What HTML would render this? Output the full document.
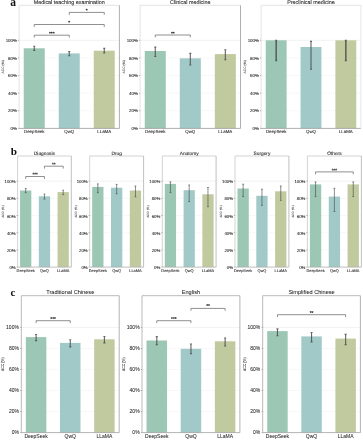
<!DOCTYPE html>
<html><head><meta charset="utf-8"><style>
html,body{margin:0;padding:0;background:#fff;}
svg{display:block;}
#w{position:absolute;left:0;top:0;width:363px;height:440px;will-change:transform;}
text.L{font-family:"Liberation Serif",serif;font-weight:bold;stroke-width:0;fill:#111;}
text{font-family:"Liberation Sans", sans-serif;fill:#1e1e1e;stroke:#1e1e1e;stroke-width:0.05;}
.gp text{text-rendering:geometricPrecision;fill:#1a1a1a;stroke:#1a1a1a;stroke-width:0.07;}
text.yl{fill:#333;stroke:#333;stroke-width:0.04;}
</style></head><body><div id="w">
<svg width="363" height="440" viewBox="0 0 363 440">
<rect width="363" height="440" fill="#fff"/>
<g class="gp">
<line x1="19.10" y1="110.78" x2="119.40" y2="110.78" stroke="#eeeeee" stroke-width="0.6" stroke-dasharray="2.5 1"/>
<line x1="19.10" y1="93.16" x2="119.40" y2="93.16" stroke="#eeeeee" stroke-width="0.6" stroke-dasharray="2.5 1"/>
<line x1="19.10" y1="75.54" x2="119.40" y2="75.54" stroke="#eeeeee" stroke-width="0.6" stroke-dasharray="2.5 1"/>
<line x1="19.10" y1="57.92" x2="119.40" y2="57.92" stroke="#eeeeee" stroke-width="0.6" stroke-dasharray="2.5 1"/>
<line x1="19.10" y1="40.30" x2="119.40" y2="40.30" stroke="#e8e8e8" stroke-width="0.6"/>
<rect x="23.75" y="48.30" width="21.00" height="80.10" fill="#9bc7b4"/>
<rect x="58.75" y="53.40" width="21.00" height="75.00" fill="#a0c9c8"/>
<rect x="93.75" y="50.70" width="21.00" height="77.70" fill="#c1ca9f"/>
<path d="M34.25 46.30V50.40M33.25 46.30H35.25M33.25 50.40H35.25" stroke="#4a4a4a" stroke-opacity="0.85" stroke-width="1.1" fill="none"/>
<path d="M69.25 51.60V55.70M68.25 51.60H70.25M68.25 55.70H70.25" stroke="#4a4a4a" stroke-opacity="0.85" stroke-width="1.1" fill="none"/>
<path d="M104.25 48.40V52.90M103.25 48.40H105.25M103.25 52.90H105.25" stroke="#4a4a4a" stroke-opacity="0.85" stroke-width="1.1" fill="none"/>
<path d="M19.10 128.40V5.30H119.40" stroke="#dcdcdc" stroke-width="0.8" fill="none"/>
<path d="M19.10 128.40H119.40" stroke="#9a9a9a" stroke-width="0.8" fill="none"/>
<path d="M119.40 128.40V5.30" stroke="#9a9a9a" stroke-width="0.8" fill="none"/>
<line x1="17.90" y1="128.40" x2="19.10" y2="128.40" stroke="#555" stroke-width="0.4"/>
<text x="16.90" y="129.98" font-size="4.4" text-anchor="end">0%</text>
<line x1="17.90" y1="110.78" x2="19.10" y2="110.78" stroke="#555" stroke-width="0.4"/>
<text x="16.90" y="112.36" font-size="4.4" text-anchor="end">20%</text>
<line x1="17.90" y1="93.16" x2="19.10" y2="93.16" stroke="#555" stroke-width="0.4"/>
<text x="16.90" y="94.74" font-size="4.4" text-anchor="end">40%</text>
<line x1="17.90" y1="75.54" x2="19.10" y2="75.54" stroke="#555" stroke-width="0.4"/>
<text x="16.90" y="77.12" font-size="4.4" text-anchor="end">60%</text>
<line x1="17.90" y1="57.92" x2="19.10" y2="57.92" stroke="#555" stroke-width="0.4"/>
<text x="16.90" y="59.50" font-size="4.4" text-anchor="end">80%</text>
<line x1="17.90" y1="40.30" x2="19.10" y2="40.30" stroke="#555" stroke-width="0.4"/>
<text x="16.90" y="41.88" font-size="4.4" text-anchor="end">100%</text>
<text x="34.25" y="133.00" font-size="4.4" text-anchor="middle">DeepSeek</text>
<text x="69.25" y="133.00" font-size="4.4" text-anchor="middle">QwQ</text>
<text x="104.25" y="133.00" font-size="4.4" text-anchor="middle">LLaMA</text>
<text transform="translate(3.90 66.85) rotate(-90)" font-size="3.4" class="yl" text-anchor="middle">ACC (%)</text>
<text x="69.25" y="3.90" font-size="5.4" text-anchor="middle">Medical teaching examination</text>
<path d="M34.25 37.60V35.20H69.25V37.60" stroke="#606060" stroke-width="0.7" fill="none"/>
<text x="51.75" y="34.70" font-size="4.8" font-weight="bold" text-anchor="middle">***</text>
<path d="M34.25 26.90V24.50H104.25V26.90" stroke="#606060" stroke-width="0.7" fill="none"/>
<text x="69.25" y="24.00" font-size="4.8" font-weight="bold" text-anchor="middle">*</text>
<path d="M69.25 14.80V12.40H104.25V14.80" stroke="#606060" stroke-width="0.7" fill="none"/>
<text x="86.75" y="11.90" font-size="4.8" font-weight="bold" text-anchor="middle">*</text>
</g>
<g class="gp">
<line x1="140.10" y1="110.78" x2="240.50" y2="110.78" stroke="#eeeeee" stroke-width="0.6" stroke-dasharray="2.5 1"/>
<line x1="140.10" y1="93.16" x2="240.50" y2="93.16" stroke="#eeeeee" stroke-width="0.6" stroke-dasharray="2.5 1"/>
<line x1="140.10" y1="75.54" x2="240.50" y2="75.54" stroke="#eeeeee" stroke-width="0.6" stroke-dasharray="2.5 1"/>
<line x1="140.10" y1="57.92" x2="240.50" y2="57.92" stroke="#eeeeee" stroke-width="0.6" stroke-dasharray="2.5 1"/>
<line x1="140.10" y1="40.30" x2="240.50" y2="40.30" stroke="#e8e8e8" stroke-width="0.6"/>
<rect x="144.76" y="51.00" width="21.02" height="77.40" fill="#9bc7b4"/>
<rect x="179.79" y="58.30" width="21.02" height="70.10" fill="#a0c9c8"/>
<rect x="214.82" y="54.10" width="21.02" height="74.30" fill="#c1ca9f"/>
<path d="M155.27 47.10V56.50M154.27 47.10H156.27M154.27 56.50H156.27" stroke="#4a4a4a" stroke-opacity="0.85" stroke-width="1.1" fill="none"/>
<path d="M190.30 53.40V65.00M189.30 53.40H191.30M189.30 65.00H191.30" stroke="#4a4a4a" stroke-opacity="0.85" stroke-width="1.1" fill="none"/>
<path d="M225.33 49.80V59.80M224.33 49.80H226.33M224.33 59.80H226.33" stroke="#4a4a4a" stroke-opacity="0.85" stroke-width="1.1" fill="none"/>
<path d="M140.10 128.40V5.30H240.50" stroke="#dcdcdc" stroke-width="0.8" fill="none"/>
<path d="M140.10 128.40H240.50" stroke="#9a9a9a" stroke-width="0.8" fill="none"/>
<path d="M240.50 128.40V5.30" stroke="#9a9a9a" stroke-width="0.8" fill="none"/>
<line x1="138.90" y1="128.40" x2="140.10" y2="128.40" stroke="#555" stroke-width="0.4"/>
<text x="137.90" y="129.98" font-size="4.4" text-anchor="end">0%</text>
<line x1="138.90" y1="110.78" x2="140.10" y2="110.78" stroke="#555" stroke-width="0.4"/>
<text x="137.90" y="112.36" font-size="4.4" text-anchor="end">20%</text>
<line x1="138.90" y1="93.16" x2="140.10" y2="93.16" stroke="#555" stroke-width="0.4"/>
<text x="137.90" y="94.74" font-size="4.4" text-anchor="end">40%</text>
<line x1="138.90" y1="75.54" x2="140.10" y2="75.54" stroke="#555" stroke-width="0.4"/>
<text x="137.90" y="77.12" font-size="4.4" text-anchor="end">60%</text>
<line x1="138.90" y1="57.92" x2="140.10" y2="57.92" stroke="#555" stroke-width="0.4"/>
<text x="137.90" y="59.50" font-size="4.4" text-anchor="end">80%</text>
<line x1="138.90" y1="40.30" x2="140.10" y2="40.30" stroke="#555" stroke-width="0.4"/>
<text x="137.90" y="41.88" font-size="4.4" text-anchor="end">100%</text>
<text x="155.27" y="133.00" font-size="4.4" text-anchor="middle">DeepSeek</text>
<text x="190.30" y="133.00" font-size="4.4" text-anchor="middle">QwQ</text>
<text x="225.33" y="133.00" font-size="4.4" text-anchor="middle">LLaMA</text>
<text transform="translate(125.20 66.85) rotate(-90)" font-size="3.4" class="yl" text-anchor="middle">ACC (%)</text>
<text x="190.30" y="3.90" font-size="5.4" text-anchor="middle">Clinical medicine</text>
<path d="M155.27 37.40V35.00H190.30V37.40" stroke="#606060" stroke-width="0.7" fill="none"/>
<text x="172.78" y="34.50" font-size="4.8" font-weight="bold" text-anchor="middle">**</text>
</g>
<g class="gp">
<line x1="261.10" y1="110.78" x2="360.90" y2="110.78" stroke="#eeeeee" stroke-width="0.6" stroke-dasharray="2.5 1"/>
<line x1="261.10" y1="93.16" x2="360.90" y2="93.16" stroke="#eeeeee" stroke-width="0.6" stroke-dasharray="2.5 1"/>
<line x1="261.10" y1="75.54" x2="360.90" y2="75.54" stroke="#eeeeee" stroke-width="0.6" stroke-dasharray="2.5 1"/>
<line x1="261.10" y1="57.92" x2="360.90" y2="57.92" stroke="#eeeeee" stroke-width="0.6" stroke-dasharray="2.5 1"/>
<line x1="261.10" y1="40.30" x2="360.90" y2="40.30" stroke="#e8e8e8" stroke-width="0.6"/>
<rect x="265.73" y="40.30" width="20.89" height="88.10" fill="#9bc7b4"/>
<rect x="300.55" y="47.00" width="20.89" height="81.40" fill="#a0c9c8"/>
<rect x="335.38" y="40.30" width="20.89" height="88.10" fill="#c1ca9f"/>
<path d="M276.18 40.50V60.40M275.18 40.50H277.18M275.18 60.40H277.18" stroke="#4a4a4a" stroke-opacity="0.85" stroke-width="1.5" fill="none"/>
<path d="M311.00 41.40V69.20M310.00 41.40H312.00M310.00 69.20H312.00" stroke="#4a4a4a" stroke-opacity="0.85" stroke-width="1.1" fill="none"/>
<path d="M345.82 40.50V60.40M344.82 40.50H346.82M344.82 60.40H346.82" stroke="#4a4a4a" stroke-opacity="0.85" stroke-width="1.5" fill="none"/>
<path d="M261.10 128.40V5.30H360.90" stroke="#dcdcdc" stroke-width="0.8" fill="none"/>
<path d="M261.10 128.40H360.90" stroke="#9a9a9a" stroke-width="0.8" fill="none"/>
<path d="M360.90 128.40V5.30" stroke="#e0e0e0" stroke-width="0.8" fill="none"/>
<line x1="259.90" y1="128.40" x2="261.10" y2="128.40" stroke="#555" stroke-width="0.4"/>
<text x="258.90" y="129.98" font-size="4.4" text-anchor="end">0%</text>
<line x1="259.90" y1="110.78" x2="261.10" y2="110.78" stroke="#555" stroke-width="0.4"/>
<text x="258.90" y="112.36" font-size="4.4" text-anchor="end">20%</text>
<line x1="259.90" y1="93.16" x2="261.10" y2="93.16" stroke="#555" stroke-width="0.4"/>
<text x="258.90" y="94.74" font-size="4.4" text-anchor="end">40%</text>
<line x1="259.90" y1="75.54" x2="261.10" y2="75.54" stroke="#555" stroke-width="0.4"/>
<text x="258.90" y="77.12" font-size="4.4" text-anchor="end">60%</text>
<line x1="259.90" y1="57.92" x2="261.10" y2="57.92" stroke="#555" stroke-width="0.4"/>
<text x="258.90" y="59.50" font-size="4.4" text-anchor="end">80%</text>
<line x1="259.90" y1="40.30" x2="261.10" y2="40.30" stroke="#555" stroke-width="0.4"/>
<text x="258.90" y="41.88" font-size="4.4" text-anchor="end">100%</text>
<text x="276.18" y="133.00" font-size="4.4" text-anchor="middle">DeepSeek</text>
<text x="311.00" y="133.00" font-size="4.4" text-anchor="middle">QwQ</text>
<text x="345.82" y="133.00" font-size="4.4" text-anchor="middle">LLaMA</text>
<text transform="translate(245.90 66.85) rotate(-90)" font-size="3.4" class="yl" text-anchor="middle">ACC (%)</text>
<text x="311.00" y="3.90" font-size="5.4" text-anchor="middle">Preclinical medicine</text>
</g>
<g class="gp">
<line x1="17.60" y1="249.90" x2="71.30" y2="249.90" stroke="#eeeeee" stroke-width="0.6" stroke-dasharray="2.5 1"/>
<line x1="17.60" y1="232.70" x2="71.30" y2="232.70" stroke="#eeeeee" stroke-width="0.6" stroke-dasharray="2.5 1"/>
<line x1="17.60" y1="215.50" x2="71.30" y2="215.50" stroke="#eeeeee" stroke-width="0.6" stroke-dasharray="2.5 1"/>
<line x1="17.60" y1="198.30" x2="71.30" y2="198.30" stroke="#eeeeee" stroke-width="0.6" stroke-dasharray="2.5 1"/>
<line x1="17.60" y1="181.10" x2="71.30" y2="181.10" stroke="#e8e8e8" stroke-width="0.6"/>
<rect x="20.09" y="190.50" width="11.24" height="76.60" fill="#9bc7b4"/>
<rect x="38.83" y="196.30" width="11.24" height="70.80" fill="#a0c9c8"/>
<rect x="57.57" y="192.10" width="11.24" height="75.00" fill="#c1ca9f"/>
<path d="M25.71 188.50V192.60M24.81 188.50H26.61M24.81 192.60H26.61" stroke="#4a4a4a" stroke-opacity="0.85" stroke-width="0.75" fill="none"/>
<path d="M44.45 194.10V199.10M43.55 194.10H45.35M43.55 199.10H45.35" stroke="#4a4a4a" stroke-opacity="0.85" stroke-width="0.75" fill="none"/>
<path d="M63.19 190.20V194.60M62.29 190.20H64.09M62.29 194.60H64.09" stroke="#4a4a4a" stroke-opacity="0.85" stroke-width="0.75" fill="none"/>
<path d="M17.60 267.10V156.00H71.30" stroke="#c8c8c8" stroke-width="0.8" fill="none"/>
<path d="M17.60 267.10H71.30" stroke="#b0b0b0" stroke-width="0.8" fill="none"/>
<path d="M71.30 267.10V156.00" stroke="#b0b0b0" stroke-width="0.8" fill="none"/>
<line x1="16.40" y1="267.10" x2="17.60" y2="267.10" stroke="#555" stroke-width="0.4"/>
<text x="15.60" y="269.15" font-size="4.3" text-anchor="end">0%</text>
<line x1="16.40" y1="249.90" x2="17.60" y2="249.90" stroke="#555" stroke-width="0.4"/>
<text x="15.60" y="251.95" font-size="4.3" text-anchor="end">20%</text>
<line x1="16.40" y1="232.70" x2="17.60" y2="232.70" stroke="#555" stroke-width="0.4"/>
<text x="15.60" y="234.75" font-size="4.3" text-anchor="end">40%</text>
<line x1="16.40" y1="215.50" x2="17.60" y2="215.50" stroke="#555" stroke-width="0.4"/>
<text x="15.60" y="217.55" font-size="4.3" text-anchor="end">60%</text>
<line x1="16.40" y1="198.30" x2="17.60" y2="198.30" stroke="#555" stroke-width="0.4"/>
<text x="15.60" y="200.35" font-size="4.3" text-anchor="end">80%</text>
<line x1="16.40" y1="181.10" x2="17.60" y2="181.10" stroke="#555" stroke-width="0.4"/>
<text x="15.60" y="183.15" font-size="4.3" text-anchor="end">100%</text>
<text x="25.71" y="271.70" font-size="3.9" text-anchor="middle">DeepSeek</text>
<text x="44.45" y="271.70" font-size="3.9" text-anchor="middle">QwQ</text>
<text x="63.19" y="271.70" font-size="3.9" text-anchor="middle">LLaMA</text>
<text transform="translate(4.00 211.55) rotate(-90)" font-size="3.2" class="yl" text-anchor="middle">ACC (%)</text>
<text x="44.45" y="154.60" font-size="4.8" text-anchor="middle">Diagnosis</text>
<path d="M25.71 178.90V176.50H44.45V178.90" stroke="#606060" stroke-width="0.7" fill="none"/>
<text x="35.08" y="176.20" font-size="4.6" font-weight="bold" text-anchor="middle">***</text>
<path d="M44.45 168.60V166.20H63.19V168.60" stroke="#606060" stroke-width="0.7" fill="none"/>
<text x="53.82" y="165.90" font-size="4.6" font-weight="bold" text-anchor="middle">**</text>
</g>
<g class="gp">
<line x1="89.70" y1="249.90" x2="143.60" y2="249.90" stroke="#eeeeee" stroke-width="0.6" stroke-dasharray="2.5 1"/>
<line x1="89.70" y1="232.70" x2="143.60" y2="232.70" stroke="#eeeeee" stroke-width="0.6" stroke-dasharray="2.5 1"/>
<line x1="89.70" y1="215.50" x2="143.60" y2="215.50" stroke="#eeeeee" stroke-width="0.6" stroke-dasharray="2.5 1"/>
<line x1="89.70" y1="198.30" x2="143.60" y2="198.30" stroke="#eeeeee" stroke-width="0.6" stroke-dasharray="2.5 1"/>
<line x1="89.70" y1="181.10" x2="143.60" y2="181.10" stroke="#e8e8e8" stroke-width="0.6"/>
<rect x="92.20" y="186.90" width="11.28" height="80.20" fill="#9bc7b4"/>
<rect x="111.01" y="187.70" width="11.28" height="79.40" fill="#a0c9c8"/>
<rect x="129.81" y="190.50" width="11.28" height="76.60" fill="#c1ca9f"/>
<path d="M97.84 183.90V192.60M96.94 183.90H98.74M96.94 192.60H98.74" stroke="#4a4a4a" stroke-opacity="0.85" stroke-width="0.75" fill="none"/>
<path d="M116.65 184.40V193.80M115.75 184.40H117.55M115.75 193.80H117.55" stroke="#4a4a4a" stroke-opacity="0.85" stroke-width="0.75" fill="none"/>
<path d="M135.46 186.00V196.80M134.56 186.00H136.36M134.56 196.80H136.36" stroke="#4a4a4a" stroke-opacity="0.85" stroke-width="0.75" fill="none"/>
<path d="M89.70 267.10V156.00H143.60" stroke="#c8c8c8" stroke-width="0.8" fill="none"/>
<path d="M89.70 267.10H143.60" stroke="#b0b0b0" stroke-width="0.8" fill="none"/>
<path d="M143.60 267.10V156.00" stroke="#b0b0b0" stroke-width="0.8" fill="none"/>
<line x1="88.50" y1="267.10" x2="89.70" y2="267.10" stroke="#555" stroke-width="0.4"/>
<text x="87.70" y="269.15" font-size="4.3" text-anchor="end">0%</text>
<line x1="88.50" y1="249.90" x2="89.70" y2="249.90" stroke="#555" stroke-width="0.4"/>
<text x="87.70" y="251.95" font-size="4.3" text-anchor="end">20%</text>
<line x1="88.50" y1="232.70" x2="89.70" y2="232.70" stroke="#555" stroke-width="0.4"/>
<text x="87.70" y="234.75" font-size="4.3" text-anchor="end">40%</text>
<line x1="88.50" y1="215.50" x2="89.70" y2="215.50" stroke="#555" stroke-width="0.4"/>
<text x="87.70" y="217.55" font-size="4.3" text-anchor="end">60%</text>
<line x1="88.50" y1="198.30" x2="89.70" y2="198.30" stroke="#555" stroke-width="0.4"/>
<text x="87.70" y="200.35" font-size="4.3" text-anchor="end">80%</text>
<line x1="88.50" y1="181.10" x2="89.70" y2="181.10" stroke="#555" stroke-width="0.4"/>
<text x="87.70" y="183.15" font-size="4.3" text-anchor="end">100%</text>
<text x="97.84" y="271.70" font-size="3.9" text-anchor="middle">DeepSeek</text>
<text x="116.65" y="271.70" font-size="3.9" text-anchor="middle">QwQ</text>
<text x="135.46" y="271.70" font-size="3.9" text-anchor="middle">LLaMA</text>
<text transform="translate(76.50 211.55) rotate(-90)" font-size="3.2" class="yl" text-anchor="middle">ACC (%)</text>
<text x="116.65" y="154.60" font-size="4.8" text-anchor="middle">Drug</text>
</g>
<g class="gp">
<line x1="162.30" y1="249.90" x2="216.10" y2="249.90" stroke="#eeeeee" stroke-width="0.6" stroke-dasharray="2.5 1"/>
<line x1="162.30" y1="232.70" x2="216.10" y2="232.70" stroke="#eeeeee" stroke-width="0.6" stroke-dasharray="2.5 1"/>
<line x1="162.30" y1="215.50" x2="216.10" y2="215.50" stroke="#eeeeee" stroke-width="0.6" stroke-dasharray="2.5 1"/>
<line x1="162.30" y1="198.30" x2="216.10" y2="198.30" stroke="#eeeeee" stroke-width="0.6" stroke-dasharray="2.5 1"/>
<line x1="162.30" y1="181.10" x2="216.10" y2="181.10" stroke="#e8e8e8" stroke-width="0.6"/>
<rect x="164.80" y="183.90" width="11.26" height="83.20" fill="#9bc7b4"/>
<rect x="183.57" y="190.20" width="11.26" height="76.90" fill="#a0c9c8"/>
<rect x="202.34" y="194.30" width="11.26" height="72.80" fill="#c1ca9f"/>
<path d="M170.43 181.90V192.60M169.53 181.90H171.33M169.53 192.60H171.33" stroke="#4a4a4a" stroke-opacity="0.85" stroke-width="0.75" fill="none"/>
<path d="M189.20 185.00V201.60M188.30 185.00H190.10M188.30 201.60H190.10" stroke="#4a4a4a" stroke-opacity="0.85" stroke-width="0.75" fill="none"/>
<path d="M207.97 187.50V206.70M207.07 187.50H208.87M207.07 206.70H208.87" stroke="#4a4a4a" stroke-opacity="0.85" stroke-width="0.75" fill="none"/>
<path d="M162.30 267.10V156.00H216.10" stroke="#c8c8c8" stroke-width="0.8" fill="none"/>
<path d="M162.30 267.10H216.10" stroke="#b0b0b0" stroke-width="0.8" fill="none"/>
<path d="M216.10 267.10V156.00" stroke="#b0b0b0" stroke-width="0.8" fill="none"/>
<line x1="161.10" y1="267.10" x2="162.30" y2="267.10" stroke="#555" stroke-width="0.4"/>
<text x="160.30" y="269.15" font-size="4.3" text-anchor="end">0%</text>
<line x1="161.10" y1="249.90" x2="162.30" y2="249.90" stroke="#555" stroke-width="0.4"/>
<text x="160.30" y="251.95" font-size="4.3" text-anchor="end">20%</text>
<line x1="161.10" y1="232.70" x2="162.30" y2="232.70" stroke="#555" stroke-width="0.4"/>
<text x="160.30" y="234.75" font-size="4.3" text-anchor="end">40%</text>
<line x1="161.10" y1="215.50" x2="162.30" y2="215.50" stroke="#555" stroke-width="0.4"/>
<text x="160.30" y="217.55" font-size="4.3" text-anchor="end">60%</text>
<line x1="161.10" y1="198.30" x2="162.30" y2="198.30" stroke="#555" stroke-width="0.4"/>
<text x="160.30" y="200.35" font-size="4.3" text-anchor="end">80%</text>
<line x1="161.10" y1="181.10" x2="162.30" y2="181.10" stroke="#555" stroke-width="0.4"/>
<text x="160.30" y="183.15" font-size="4.3" text-anchor="end">100%</text>
<text x="170.43" y="271.70" font-size="3.9" text-anchor="middle">DeepSeek</text>
<text x="189.20" y="271.70" font-size="3.9" text-anchor="middle">QwQ</text>
<text x="207.97" y="271.70" font-size="3.9" text-anchor="middle">LLaMA</text>
<text transform="translate(149.00 211.55) rotate(-90)" font-size="3.2" class="yl" text-anchor="middle">ACC (%)</text>
<text x="189.20" y="154.60" font-size="4.8" text-anchor="middle">Anatomy</text>
</g>
<g class="gp">
<line x1="235.00" y1="249.90" x2="288.90" y2="249.90" stroke="#eeeeee" stroke-width="0.6" stroke-dasharray="2.5 1"/>
<line x1="235.00" y1="232.70" x2="288.90" y2="232.70" stroke="#eeeeee" stroke-width="0.6" stroke-dasharray="2.5 1"/>
<line x1="235.00" y1="215.50" x2="288.90" y2="215.50" stroke="#eeeeee" stroke-width="0.6" stroke-dasharray="2.5 1"/>
<line x1="235.00" y1="198.30" x2="288.90" y2="198.30" stroke="#eeeeee" stroke-width="0.6" stroke-dasharray="2.5 1"/>
<line x1="235.00" y1="181.10" x2="288.90" y2="181.10" stroke="#e8e8e8" stroke-width="0.6"/>
<rect x="237.50" y="188.50" width="11.28" height="78.60" fill="#9bc7b4"/>
<rect x="256.31" y="195.80" width="11.28" height="71.30" fill="#a0c9c8"/>
<rect x="275.11" y="191.30" width="11.28" height="75.80" fill="#c1ca9f"/>
<path d="M243.14 184.20V196.60M242.24 184.20H244.04M242.24 196.60H244.04" stroke="#4a4a4a" stroke-opacity="0.85" stroke-width="0.75" fill="none"/>
<path d="M261.95 189.20V205.40M261.05 189.20H262.85M261.05 205.40H262.85" stroke="#4a4a4a" stroke-opacity="0.85" stroke-width="0.75" fill="none"/>
<path d="M280.76 186.00V200.40M279.86 186.00H281.66M279.86 200.40H281.66" stroke="#4a4a4a" stroke-opacity="0.85" stroke-width="0.75" fill="none"/>
<path d="M235.00 267.10V156.00H288.90" stroke="#c8c8c8" stroke-width="0.8" fill="none"/>
<path d="M235.00 267.10H288.90" stroke="#b0b0b0" stroke-width="0.8" fill="none"/>
<path d="M288.90 267.10V156.00" stroke="#b0b0b0" stroke-width="0.8" fill="none"/>
<line x1="233.80" y1="267.10" x2="235.00" y2="267.10" stroke="#555" stroke-width="0.4"/>
<text x="233.00" y="269.15" font-size="4.3" text-anchor="end">0%</text>
<line x1="233.80" y1="249.90" x2="235.00" y2="249.90" stroke="#555" stroke-width="0.4"/>
<text x="233.00" y="251.95" font-size="4.3" text-anchor="end">20%</text>
<line x1="233.80" y1="232.70" x2="235.00" y2="232.70" stroke="#555" stroke-width="0.4"/>
<text x="233.00" y="234.75" font-size="4.3" text-anchor="end">40%</text>
<line x1="233.80" y1="215.50" x2="235.00" y2="215.50" stroke="#555" stroke-width="0.4"/>
<text x="233.00" y="217.55" font-size="4.3" text-anchor="end">60%</text>
<line x1="233.80" y1="198.30" x2="235.00" y2="198.30" stroke="#555" stroke-width="0.4"/>
<text x="233.00" y="200.35" font-size="4.3" text-anchor="end">80%</text>
<line x1="233.80" y1="181.10" x2="235.00" y2="181.10" stroke="#555" stroke-width="0.4"/>
<text x="233.00" y="183.15" font-size="4.3" text-anchor="end">100%</text>
<text x="243.14" y="271.70" font-size="3.9" text-anchor="middle">DeepSeek</text>
<text x="261.95" y="271.70" font-size="3.9" text-anchor="middle">QwQ</text>
<text x="280.76" y="271.70" font-size="3.9" text-anchor="middle">LLaMA</text>
<text transform="translate(221.50 211.55) rotate(-90)" font-size="3.2" class="yl" text-anchor="middle">ACC (%)</text>
<text x="261.95" y="154.60" font-size="4.8" text-anchor="middle">Surgery</text>
</g>
<g class="gp">
<line x1="307.40" y1="249.90" x2="361.40" y2="249.90" stroke="#eeeeee" stroke-width="0.6" stroke-dasharray="2.5 1"/>
<line x1="307.40" y1="232.70" x2="361.40" y2="232.70" stroke="#eeeeee" stroke-width="0.6" stroke-dasharray="2.5 1"/>
<line x1="307.40" y1="215.50" x2="361.40" y2="215.50" stroke="#eeeeee" stroke-width="0.6" stroke-dasharray="2.5 1"/>
<line x1="307.40" y1="198.30" x2="361.40" y2="198.30" stroke="#eeeeee" stroke-width="0.6" stroke-dasharray="2.5 1"/>
<line x1="307.40" y1="181.10" x2="361.40" y2="181.10" stroke="#e8e8e8" stroke-width="0.6"/>
<rect x="309.91" y="184.40" width="11.30" height="82.70" fill="#9bc7b4"/>
<rect x="328.75" y="196.60" width="11.30" height="70.50" fill="#a0c9c8"/>
<rect x="347.59" y="184.40" width="11.30" height="82.70" fill="#c1ca9f"/>
<path d="M315.56 181.90V196.60M314.66 181.90H316.46M314.66 196.60H316.46" stroke="#4a4a4a" stroke-opacity="0.85" stroke-width="0.75" fill="none"/>
<path d="M334.40 188.30V211.50M333.50 188.30H335.30M333.50 211.50H335.30" stroke="#4a4a4a" stroke-opacity="0.85" stroke-width="0.75" fill="none"/>
<path d="M353.24 181.90V196.60M352.34 181.90H354.14M352.34 196.60H354.14" stroke="#4a4a4a" stroke-opacity="0.85" stroke-width="0.75" fill="none"/>
<path d="M307.40 267.10V156.00H361.40" stroke="#c8c8c8" stroke-width="0.8" fill="none"/>
<path d="M307.40 267.10H361.40" stroke="#b0b0b0" stroke-width="0.8" fill="none"/>
<path d="M361.40 267.10V156.00" stroke="#b0b0b0" stroke-width="0.8" fill="none"/>
<line x1="306.20" y1="267.10" x2="307.40" y2="267.10" stroke="#555" stroke-width="0.4"/>
<text x="305.40" y="269.15" font-size="4.3" text-anchor="end">0%</text>
<line x1="306.20" y1="249.90" x2="307.40" y2="249.90" stroke="#555" stroke-width="0.4"/>
<text x="305.40" y="251.95" font-size="4.3" text-anchor="end">20%</text>
<line x1="306.20" y1="232.70" x2="307.40" y2="232.70" stroke="#555" stroke-width="0.4"/>
<text x="305.40" y="234.75" font-size="4.3" text-anchor="end">40%</text>
<line x1="306.20" y1="215.50" x2="307.40" y2="215.50" stroke="#555" stroke-width="0.4"/>
<text x="305.40" y="217.55" font-size="4.3" text-anchor="end">60%</text>
<line x1="306.20" y1="198.30" x2="307.40" y2="198.30" stroke="#555" stroke-width="0.4"/>
<text x="305.40" y="200.35" font-size="4.3" text-anchor="end">80%</text>
<line x1="306.20" y1="181.10" x2="307.40" y2="181.10" stroke="#555" stroke-width="0.4"/>
<text x="305.40" y="183.15" font-size="4.3" text-anchor="end">100%</text>
<text x="315.56" y="271.70" font-size="3.9" text-anchor="middle">DeepSeek</text>
<text x="334.40" y="271.70" font-size="3.9" text-anchor="middle">QwQ</text>
<text x="353.24" y="271.70" font-size="3.9" text-anchor="middle">LLaMA</text>
<text transform="translate(294.00 211.55) rotate(-90)" font-size="3.2" class="yl" text-anchor="middle">ACC (%)</text>
<text x="334.40" y="154.60" font-size="4.8" text-anchor="middle">Others</text>
<path d="M315.56 174.30V171.90H353.24V174.30" stroke="#606060" stroke-width="0.7" fill="none"/>
<text x="334.40" y="171.60" font-size="4.6" font-weight="bold" text-anchor="middle">***</text>
</g>
<g class="">
<line x1="21.30" y1="411.56" x2="119.20" y2="411.56" stroke="#eeeeee" stroke-width="0.6" stroke-dasharray="2.5 1"/>
<line x1="21.30" y1="390.52" x2="119.20" y2="390.52" stroke="#eeeeee" stroke-width="0.6" stroke-dasharray="2.5 1"/>
<line x1="21.30" y1="369.48" x2="119.20" y2="369.48" stroke="#eeeeee" stroke-width="0.6" stroke-dasharray="2.5 1"/>
<line x1="21.30" y1="348.44" x2="119.20" y2="348.44" stroke="#eeeeee" stroke-width="0.6" stroke-dasharray="2.5 1"/>
<line x1="21.30" y1="327.40" x2="119.20" y2="327.40" stroke="#e8e8e8" stroke-width="0.6"/>
<rect x="25.84" y="337.10" width="20.50" height="95.50" fill="#9bc7b4"/>
<rect x="60.00" y="342.90" width="20.50" height="89.70" fill="#a0c9c8"/>
<rect x="94.16" y="339.30" width="20.50" height="93.30" fill="#c1ca9f"/>
<path d="M36.09 334.50V340.60M35.09 334.50H37.09M35.09 340.60H37.09" stroke="#4a4a4a" stroke-opacity="0.85" stroke-width="1.1" fill="none"/>
<path d="M70.25 339.70V346.90M69.25 339.70H71.25M69.25 346.90H71.25" stroke="#4a4a4a" stroke-opacity="0.85" stroke-width="1.1" fill="none"/>
<path d="M104.41 336.50V342.90M103.41 336.50H105.41M103.41 342.90H105.41" stroke="#4a4a4a" stroke-opacity="0.85" stroke-width="1.1" fill="none"/>
<path d="M21.30 432.60V295.70H119.20" stroke="#a8a8a8" stroke-width="0.8" fill="none"/>
<path d="M21.30 432.60H119.20" stroke="#a0a0a0" stroke-width="0.8" fill="none"/>
<path d="M119.20 432.60V295.70" stroke="#a0a0a0" stroke-width="0.8" fill="none"/>
<line x1="20.10" y1="432.60" x2="21.30" y2="432.60" stroke="#555" stroke-width="0.4"/>
<text x="18.90" y="434.40" font-size="5.0" text-anchor="end">0%</text>
<line x1="20.10" y1="411.56" x2="21.30" y2="411.56" stroke="#555" stroke-width="0.4"/>
<text x="18.90" y="413.36" font-size="5.0" text-anchor="end">20%</text>
<line x1="20.10" y1="390.52" x2="21.30" y2="390.52" stroke="#555" stroke-width="0.4"/>
<text x="18.90" y="392.32" font-size="5.0" text-anchor="end">40%</text>
<line x1="20.10" y1="369.48" x2="21.30" y2="369.48" stroke="#555" stroke-width="0.4"/>
<text x="18.90" y="371.28" font-size="5.0" text-anchor="end">60%</text>
<line x1="20.10" y1="348.44" x2="21.30" y2="348.44" stroke="#555" stroke-width="0.4"/>
<text x="18.90" y="350.24" font-size="5.0" text-anchor="end">80%</text>
<line x1="20.10" y1="327.40" x2="21.30" y2="327.40" stroke="#555" stroke-width="0.4"/>
<text x="18.90" y="329.20" font-size="5.0" text-anchor="end">100%</text>
<text x="36.09" y="438.20" font-size="5.0" text-anchor="middle">DeepSeek</text>
<text x="70.25" y="438.20" font-size="5.0" text-anchor="middle">QwQ</text>
<text x="104.41" y="438.20" font-size="5.0" text-anchor="middle">LLaMA</text>
<text transform="translate(4.00 364.15) rotate(-90)" font-size="3.5" class="yl" text-anchor="middle">ACC (%)</text>
<text x="70.25" y="294.20" font-size="5.6" text-anchor="middle">Traditional Chinese</text>
<path d="M36.09 323.10V320.70H70.25V323.10" stroke="#606060" stroke-width="0.7" fill="none"/>
<text x="53.17" y="321.20" font-size="4.8" font-weight="bold" text-anchor="middle">***</text>
</g>
<g class="">
<line x1="142.00" y1="411.56" x2="239.90" y2="411.56" stroke="#eeeeee" stroke-width="0.6" stroke-dasharray="2.5 1"/>
<line x1="142.00" y1="390.52" x2="239.90" y2="390.52" stroke="#eeeeee" stroke-width="0.6" stroke-dasharray="2.5 1"/>
<line x1="142.00" y1="369.48" x2="239.90" y2="369.48" stroke="#eeeeee" stroke-width="0.6" stroke-dasharray="2.5 1"/>
<line x1="142.00" y1="348.44" x2="239.90" y2="348.44" stroke="#eeeeee" stroke-width="0.6" stroke-dasharray="2.5 1"/>
<line x1="142.00" y1="327.40" x2="239.90" y2="327.40" stroke="#e8e8e8" stroke-width="0.6"/>
<rect x="146.54" y="340.50" width="20.50" height="92.10" fill="#9bc7b4"/>
<rect x="180.70" y="348.80" width="20.50" height="83.80" fill="#a0c9c8"/>
<rect x="214.86" y="341.30" width="20.50" height="91.30" fill="#c1ca9f"/>
<path d="M156.79 336.60V344.60M155.79 336.60H157.79M155.79 344.60H157.79" stroke="#4a4a4a" stroke-opacity="0.85" stroke-width="1.1" fill="none"/>
<path d="M190.95 344.00V353.70M189.95 344.00H191.95M189.95 353.70H191.95" stroke="#4a4a4a" stroke-opacity="0.85" stroke-width="1.1" fill="none"/>
<path d="M225.11 338.00V346.00M224.11 338.00H226.11M224.11 346.00H226.11" stroke="#4a4a4a" stroke-opacity="0.85" stroke-width="1.1" fill="none"/>
<path d="M142.00 432.60V295.70H239.90" stroke="#a8a8a8" stroke-width="0.8" fill="none"/>
<path d="M142.00 432.60H239.90" stroke="#a0a0a0" stroke-width="0.8" fill="none"/>
<path d="M239.90 432.60V295.70" stroke="#a0a0a0" stroke-width="0.8" fill="none"/>
<line x1="140.80" y1="432.60" x2="142.00" y2="432.60" stroke="#555" stroke-width="0.4"/>
<text x="139.60" y="434.40" font-size="5.0" text-anchor="end">0%</text>
<line x1="140.80" y1="411.56" x2="142.00" y2="411.56" stroke="#555" stroke-width="0.4"/>
<text x="139.60" y="413.36" font-size="5.0" text-anchor="end">20%</text>
<line x1="140.80" y1="390.52" x2="142.00" y2="390.52" stroke="#555" stroke-width="0.4"/>
<text x="139.60" y="392.32" font-size="5.0" text-anchor="end">40%</text>
<line x1="140.80" y1="369.48" x2="142.00" y2="369.48" stroke="#555" stroke-width="0.4"/>
<text x="139.60" y="371.28" font-size="5.0" text-anchor="end">60%</text>
<line x1="140.80" y1="348.44" x2="142.00" y2="348.44" stroke="#555" stroke-width="0.4"/>
<text x="139.60" y="350.24" font-size="5.0" text-anchor="end">80%</text>
<line x1="140.80" y1="327.40" x2="142.00" y2="327.40" stroke="#555" stroke-width="0.4"/>
<text x="139.60" y="329.20" font-size="5.0" text-anchor="end">100%</text>
<text x="156.79" y="438.20" font-size="5.0" text-anchor="middle">DeepSeek</text>
<text x="190.95" y="438.20" font-size="5.0" text-anchor="middle">QwQ</text>
<text x="225.11" y="438.20" font-size="5.0" text-anchor="middle">LLaMA</text>
<text transform="translate(125.00 364.15) rotate(-90)" font-size="3.5" class="yl" text-anchor="middle">ACC (%)</text>
<text x="190.95" y="294.20" font-size="5.6" text-anchor="middle">English</text>
<path d="M156.79 323.10V320.70H190.95V323.10" stroke="#606060" stroke-width="0.7" fill="none"/>
<text x="173.87" y="321.20" font-size="4.8" font-weight="bold" text-anchor="middle">***</text>
<path d="M190.95 310.80V308.40H225.11V310.80" stroke="#606060" stroke-width="0.7" fill="none"/>
<text x="208.03" y="307.50" font-size="4.8" font-weight="bold" text-anchor="middle">**</text>
</g>
<g class="">
<line x1="262.70" y1="411.56" x2="360.40" y2="411.56" stroke="#eeeeee" stroke-width="0.6" stroke-dasharray="2.5 1"/>
<line x1="262.70" y1="390.52" x2="360.40" y2="390.52" stroke="#eeeeee" stroke-width="0.6" stroke-dasharray="2.5 1"/>
<line x1="262.70" y1="369.48" x2="360.40" y2="369.48" stroke="#eeeeee" stroke-width="0.6" stroke-dasharray="2.5 1"/>
<line x1="262.70" y1="348.44" x2="360.40" y2="348.44" stroke="#eeeeee" stroke-width="0.6" stroke-dasharray="2.5 1"/>
<line x1="262.70" y1="327.40" x2="360.40" y2="327.40" stroke="#e8e8e8" stroke-width="0.6"/>
<rect x="267.23" y="331.10" width="20.45" height="101.50" fill="#9bc7b4"/>
<rect x="301.32" y="336.40" width="20.45" height="96.20" fill="#a0c9c8"/>
<rect x="335.41" y="338.60" width="20.45" height="94.00" fill="#c1ca9f"/>
<path d="M277.46 328.90V335.80M276.46 328.90H278.46M276.46 335.80H278.46" stroke="#4a4a4a" stroke-opacity="0.85" stroke-width="1.1" fill="none"/>
<path d="M311.55 332.50V341.90M310.55 332.50H312.55M310.55 341.90H312.55" stroke="#4a4a4a" stroke-opacity="0.85" stroke-width="1.1" fill="none"/>
<path d="M345.64 334.40V344.60M344.64 334.40H346.64M344.64 344.60H346.64" stroke="#4a4a4a" stroke-opacity="0.85" stroke-width="1.1" fill="none"/>
<path d="M262.70 432.60V295.70H360.40" stroke="#a8a8a8" stroke-width="0.8" fill="none"/>
<path d="M262.70 432.60H360.40" stroke="#a0a0a0" stroke-width="0.8" fill="none"/>
<path d="M360.40 432.60V295.70" stroke="#a0a0a0" stroke-width="0.8" fill="none"/>
<line x1="261.50" y1="432.60" x2="262.70" y2="432.60" stroke="#555" stroke-width="0.4"/>
<text x="260.30" y="434.40" font-size="5.0" text-anchor="end">0%</text>
<line x1="261.50" y1="411.56" x2="262.70" y2="411.56" stroke="#555" stroke-width="0.4"/>
<text x="260.30" y="413.36" font-size="5.0" text-anchor="end">20%</text>
<line x1="261.50" y1="390.52" x2="262.70" y2="390.52" stroke="#555" stroke-width="0.4"/>
<text x="260.30" y="392.32" font-size="5.0" text-anchor="end">40%</text>
<line x1="261.50" y1="369.48" x2="262.70" y2="369.48" stroke="#555" stroke-width="0.4"/>
<text x="260.30" y="371.28" font-size="5.0" text-anchor="end">60%</text>
<line x1="261.50" y1="348.44" x2="262.70" y2="348.44" stroke="#555" stroke-width="0.4"/>
<text x="260.30" y="350.24" font-size="5.0" text-anchor="end">80%</text>
<line x1="261.50" y1="327.40" x2="262.70" y2="327.40" stroke="#555" stroke-width="0.4"/>
<text x="260.30" y="329.20" font-size="5.0" text-anchor="end">100%</text>
<text x="277.46" y="438.20" font-size="5.0" text-anchor="middle">DeepSeek</text>
<text x="311.55" y="438.20" font-size="5.0" text-anchor="middle">QwQ</text>
<text x="345.64" y="438.20" font-size="5.0" text-anchor="middle">LLaMA</text>
<text transform="translate(246.00 364.15) rotate(-90)" font-size="3.5" class="yl" text-anchor="middle">ACC (%)</text>
<text x="311.55" y="294.20" font-size="5.6" text-anchor="middle">Simplified Chinese</text>
<path d="M277.46 317.10V314.70H345.64V317.10" stroke="#606060" stroke-width="0.7" fill="none"/>
<text x="311.55" y="315.20" font-size="4.8" font-weight="bold" text-anchor="middle">**</text>
</g>
<text x="10.3" y="5.6" class="L" font-size="11.5">a</text>
<text x="10.8" y="155" class="L" font-size="11.2">b</text>
<text x="10.5" y="296.2" class="L" font-size="11">c</text>
</svg></div></body></html>
